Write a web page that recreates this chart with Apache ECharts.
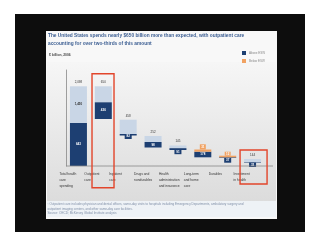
<!DOCTYPE html>
<html><head><meta charset="utf-8">
<script src="https://cdn.jsdelivr.net/npm/echarts@6/dist/echarts.min.js"></script>
<style>html,body{margin:0;padding:0;background:#fff;}#c{width:320px;height:247px;}</style>
</head><body><div id="c"></div>
<script>
const categories = ['Total health\ncare\nspending','Outpatient\ncare','Inpatient\ncare','Drugs and\nnondurables','Health\nadministration\nand insurance','Long-term\nand home\ncare','Durables','Investment\nin health'];
// segment bounds (chart units, not to scale in original)
const lightLow  = [860, 1274, 640, 480, 356, null, null, 80];
const lightHigh = [1594, 1594, 926, 600, 410, null, null, 140];
const lightLabels = ['1,450','','','','','','',''];
const darkWideLow  = [0, 940, 610, 370, 320, 174, 160, 70];
const darkWideHigh = [860, 1274, 640, 480, 356, 286, 174, 80];
const darkWideLabels = ['643','436','','98','','178','',''];
const darkNarrowLow  = [null, null, 540, null, 236, null, 66, -20];
const darkNarrowHigh = [null, null, 640, null, 320, null, 160, 70];
const darkNarrowLabels = ['','','82','','91','','37','32'];
const orangeWideLow  = [null, null, null, null, null, 286, 174, null];
const orangeWideHigh = [null, null, null, null, null, 330, 206, null];
const orangeNarrowLow  = [null, null, null, null, null, 330, 206, null];
const orangeNarrowHigh = [null, null, null, null, null, 434, 286, null];
const orangeNarrowLabels = ['','','','','','31','12',''];
const topLabels = ['2,098','650','458','252','145','','','144'];

const FONT = "'Liberation Sans', Arial, sans-serif";
const NAVY = '#1d3f72', LIGHT = '#c9d6e6', ORANGE = '#f1a262';

function segData(lo, hi){
  const d=[]; lo.forEach((v,i)=>{ if(v!==null && hi[i]!==null) d.push([i, v, hi[i]]); }); return d;
}
function segSeries(name, lo, hi, labels, color, width, labelColor){
  return {
    type:'custom', name, itemStyle:{color}, data: segData(lo,hi), encode:{x:0,y:[1,2]},
    renderItem(params, api){
      const i = api.value(0);
      const a = api.coord([i, api.value(1)]), b = api.coord([i, api.value(2)]);
      const ch = [{type:'rect', shape:{x:a[0]-width/2, y:b[1], width, height:a[1]-b[1]}, style:{fill:color}}];
      const t = labels ? labels[i] : '';
      if(t) ch.push({type:'text', style:{text:t, x:a[0], y:(a[1]+b[1])/2, align:'center', verticalAlign:'middle', fill:labelColor, font:'bold 3px '+FONT}});
      return {type:'group', children:ch};
    }
  };
}
const topVals = categories.map((c,i)=>Math.max(...[lightHigh[i],darkWideHigh[i],darkNarrowHigh[i],orangeNarrowHigh[i]].filter(v=>v!==null)));

const chart = echarts.init(document.getElementById('c'), null, {renderer:'canvas'});
const option = {
  animation:false,
  title:{text:'The United States spends nearly $650 billion more than expected, with outpatient care\naccounting for over two-thirds of this amount', left:48, top:32, padding:0,
    textStyle:{fontFamily:FONT, fontSize:4.8, fontWeight:'bold', color:'#3d5f93', lineHeight:7.5}},
  legend:{data:['Above ESW','Below ESW'], orient:'vertical', left:242, top:51, padding:0, itemWidth:4, itemHeight:4, itemGap:4, icon:'rect',
    textStyle:{fontFamily:FONT, fontSize:3, color:'#888', padding:[0,0,0,-2]}},
  grid:{left:66, width:199, top:70, height:96},
  xAxis:{type:'category', data:categories, axisLine:{show:false}, axisTick:{show:false},
    axisLabel:{interval:0, align:'left', margin:5, fontFamily:FONT, fontSize:3.3, lineHeight:6, color:'#333', padding:[0,0,0,-19]}},
  yAxis:{type:'value', min:0, max:1920, axisLine:{show:true, lineStyle:{color:'#888', width:0.8}}, axisTick:{show:false}, axisLabel:{show:false}, splitLine:{show:false}},
  series:[
    segSeries('ESW', lightLow, lightHigh, lightLabels, LIGHT, 17, '#333'),
    segSeries('Above ESW', darkWideLow, darkWideHigh, darkWideLabels, NAVY, 17, '#fff'),
    segSeries('Above ESW', darkNarrowLow, darkNarrowHigh, darkNarrowLabels, NAVY, 7, '#fff'),
    segSeries('Below ESW', orangeWideLow, orangeWideHigh, null, ORANGE, 17, '#fff'),
    segSeries('Below ESW', orangeNarrowLow, orangeNarrowHigh, orangeNarrowLabels, ORANGE, 6, '#fff'),
    {type:'custom', name:'top', data: topVals.map((v,i)=>[i,v]), encode:{x:0,y:1},
      renderItem(params, api){
        const i=api.value(0); const p=api.coord([i, api.value(1)]);
        return {type:'text', style:{text:topLabels[i], x:p[0], y:p[1]-4, align:'center', verticalAlign:'middle', fill:'#333', font:'3px '+FONT}};
      }}
  ],
  graphic:[
    {type:'rect', z:-100, shape:{x:15,y:14,width:290,height:218}, style:{fill:'#0d0d0d'}},
    {type:'rect', z:-99, shape:{x:46,y:31,width:231,height:188}, style:{fill:'#f8f8f8'}},
    {type:'rect', z:-98, shape:{x:47,y:62,width:229,height:139}, style:{fill:new echarts.graphic.LinearGradient(0,0,0,1,[{offset:0,color:'#f6f6f6'},{offset:1,color:'#dcdcdc'}])}},
    {type:'rect', z:-98, shape:{x:47,y:201,width:229,height:16}, style:{fill:'#eef2f6'}},
    {type:'text', z:5, style:{text:'$ billion, 2006', x:49, y:54.7, verticalAlign:'middle', fill:'#444', font:'bold 3.3px '+FONT}},
    {type:'line', z:5, shape:{x1:66, y1:166, x2:273, y2:166}, style:{stroke:'#888', lineWidth:0.8}},
    {type:'text', z:5, style:{text:'¹ Outpatient care includes physician and dental offices, same-day visits to hospitals including Emergency Departments, ambulatory surgery and\noutpatient imaging centers, and other same-day care facilities.\nSource: OECD; McKinsey Global Institute analysis', x:47.5, y:202, fill:'#8090a8', font:'3.1px '+FONT, lineHeight:4.6}}
  ]
};
chart.setOption(option);
// annotation boxes around highlighted categories
const cx1 = chart.convertToPixel({xAxisIndex:0}, 1);
const cx7 = chart.convertToPixel({xAxisIndex:0}, 7);
const ty1 = chart.convertToPixel({yAxisIndex:0}, topVals[1]);
const ty7 = chart.convertToPixel({yAxisIndex:0}, topVals[7]);
option.graphic.push(
  {type:'rect', z:50, shape:{x:cx1-11.3, y:ty1-12.5, width:22, height:114}, style:{fill:'none', stroke:'#e2452b', lineWidth:1.4}},
  {type:'rect', z:50, shape:{x:cx7-12.5, y:ty7-9, width:27, height:34}, style:{fill:'none', stroke:'#e2452b', lineWidth:1.4}}
);
chart.setOption({graphic:option.graphic});
</script></body></html>
